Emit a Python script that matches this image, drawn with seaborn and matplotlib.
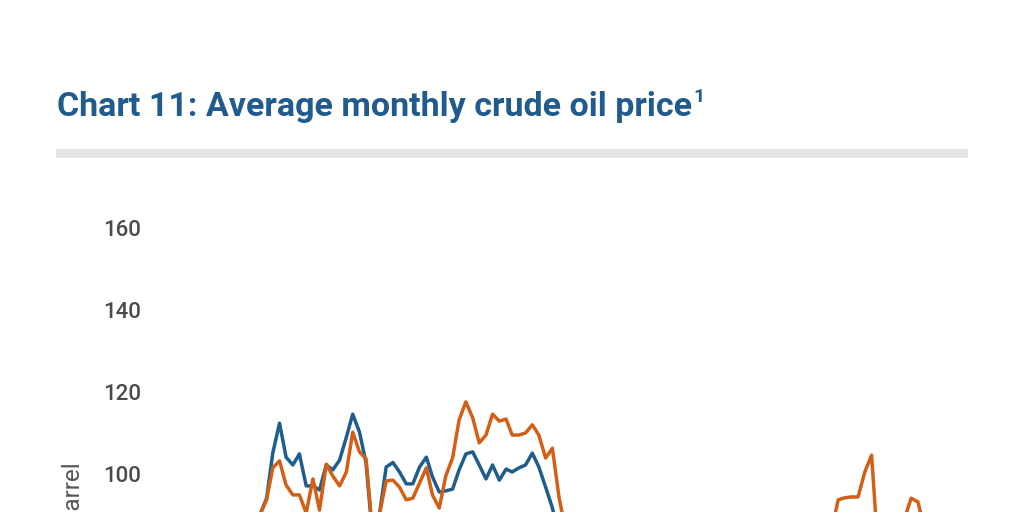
# Chart 11: average monthly crude oil price
import numpy as np
import pandas as pd
import matplotlib
matplotlib.use('Agg')
import matplotlib.pyplot as plt
import seaborn as sns
from matplotlib.patches import Rectangle

sns.set_style('white')
plt.rcParams['font.family'] = ['Roboto', 'DejaVu Sans']

# monthly, Jan 2010 - Dec 2019
months = pd.date_range('2010-01-01', '2019-12-01', freq='MS')

us_dollars = [
    76, 73, 78, 83, 75, 74, 74, 76, 76, 81, 84, 87,                       # 2010
    90, 94.1, 105.1, 112.4, 104.1, 102.2, 104.9, 97.1, 97.1, 96.1, 102.2, 101.0,   # 2011
    103.4, 109.0, 114.6, 110.2, 102.7, 84, 90, 101.7, 102.8, 100.5, 97.6, 97.6,    # 2012
    101.7, 104.1, 99.3, 95.6, 95.9, 96.3, 101.0, 104.9, 105.4, 102.2, 98.8, 102.2, # 2013
    98.5, 101.2, 100.5, 101.5, 102.2, 105.1, 101.7, 96.8, 91.7, 85, 77, 60,        # 2014
    47, 55, 54, 58, 63, 60, 55, 46, 46, 47, 43, 37,                       # 2015
    30, 31, 37, 40, 45, 47, 44, 45, 45, 49, 44, 52,                       # 2016
    54, 54, 51, 52, 49, 45, 48, 51, 55, 57, 62, 64,                       # 2017
    66, 63, 64, 69, 70, 70, 70, 74, 77, 60, 55, 53,                       # 2018
    60, 65, 68, 67, 62, 59, 60, 57, 58, 57, 59, 61,                       # 2019
]

aus_dollars = [
    84, 81, 85, 88, 85, 86, 85, 84, 83, 82, 85, 88,                       # 2010
    90, 93.7, 101.5, 103.2, 97.3, 94.9, 94.9, 90.5, 98.8, 91.2, 102.4, 99.5,       # 2011
    97.1, 100.5, 110.2, 105.4, 103.7, 85, 90, 98.3, 98.5, 96.8, 93.7, 94.1,        # 2012
    97.8, 101.5, 94.9, 91.7, 99.5, 103.9, 113.2, 117.6, 113.7, 107.6, 109.5, 114.6, # 2013
    112.9, 113.4, 109.5, 109.5, 110.0, 112.0, 109.5, 103.9, 106.3, 94.4, 86, 72,   # 2014
    59, 69, 70, 74, 80, 78, 74, 64, 65, 66, 61, 51,                       # 2015
    43, 44, 49, 53, 61, 64, 58, 59, 59, 65, 58, 70,                       # 2016
    72, 71, 67, 69, 66, 60, 62, 65, 70, 74, 81, 84,                       # 2017
    86, 84, 86, 93.7, 94.2, 94.4, 94.4, 100.5, 104.6, 81, 75, 72,         # 2018
    82, 89.5, 94.1, 93.2, 86.6, 85, 87, 84, 85, 83, 86, 88,               # 2019
]

series_names = ['US dollars', 'Australian dollars']
y_ticks = [0, 20, 40, 60, 80, 100, 120, 140, 160]

df = pd.DataFrame({'month': months,
                   series_names[0]: us_dollars,
                   series_names[1]: aus_dollars})
long = df.melt(id_vars='month', var_name='series', value_name='price')

blue = '#1f5d8c'
orange = '#d35f17'

W, H = 1024, 512
fig = plt.figure(figsize=(W / 100, H / 100), dpi=100)

# axes runs past the bottom of the canvas (the picture is a crop of a taller chart)
ax = fig.add_axes([155 / W, 1 - 884 / H, (978 - 155) / W, (884 - 228) / H])
sns.lineplot(data=long, x='month', y='price', hue='series',
             hue_order=series_names, palette=[blue, orange],
             linewidth=2.5, legend=False, ax=ax)

ax.set_ylim(0, 160)
ax.set_yticks(y_ticks)
ax.set_xlim(pd.Timestamp('2009-09-08'), pd.Timestamp('2020-01-01'))
sns.despine(ax=ax, left=True, bottom=True)
ax.tick_params(axis='y', length=0, pad=10, labelsize=16, labelcolor='#4a4a4a')
for lab in ax.get_yticklabels():
    lab.set_fontweight('medium')
ax.tick_params(axis='x', length=0, labelbottom=False)
ax.set_xlabel('')
ax.set_ylabel('Dollars per barrel', loc='top', fontsize=17.5, color='#555555')
ax.yaxis.set_label_coords((85 - 155) / (978 - 155), (884 - 462) / (884 - 228))

# title + footnote marker
title = fig.text(57 / W, 1 - 116 / H, 'Chart 11: Average monthly crude oil price',
                 fontsize=24.5, fontweight='bold', color='#215a8c', va='baseline')
fig.canvas.draw()
bb = title.get_window_extent()
fig.text((bb.x1 + 1) / W, 1 - 102 / H, '1', fontsize=14, fontweight='bold',
         color='#215a8c', va='baseline')

# grey rule under the title
fig.add_artist(Rectangle((56 / W, 1 - 158 / H), (968 - 56) / W, 9 / H,
                         transform=fig.transFigure, color='#e6e6e6', lw=0))

fig.savefig('out.png', dpi=100)
